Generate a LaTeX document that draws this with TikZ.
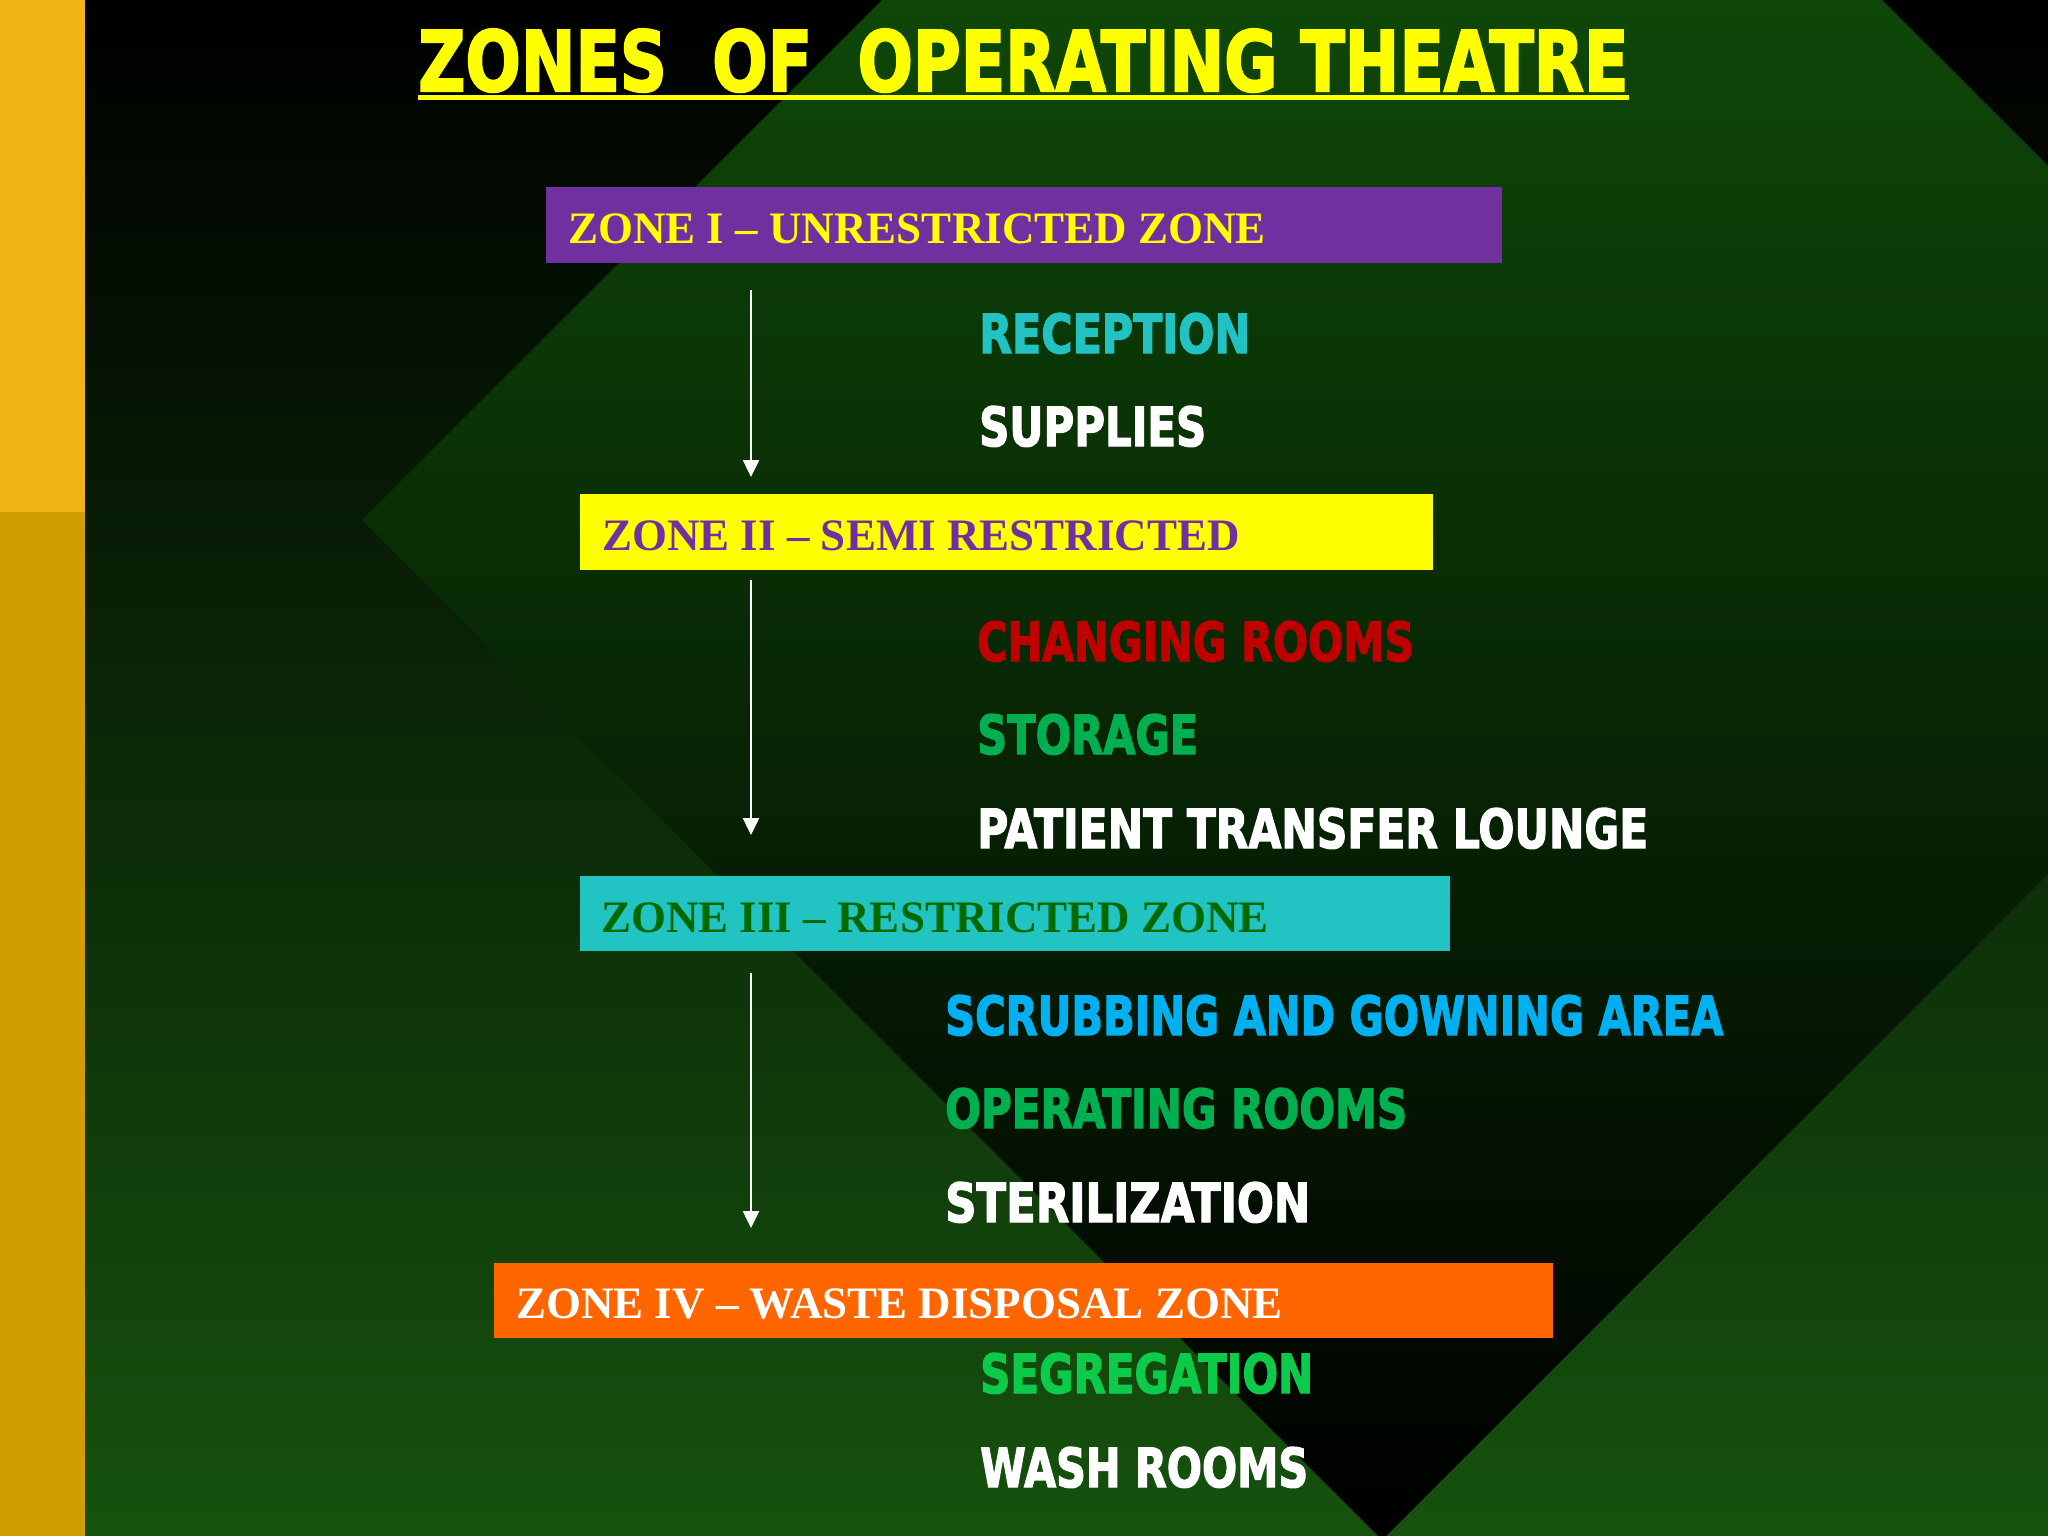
\documentclass[tikz,border=0pt]{standalone}
\usepackage{fontspec}
\usetikzlibrary{arrows.meta}
\newfontfamily\serifb{Liberation Serif}
\newfontfamily\disp{DejaVu Sans}[FakeBold=2.6]
\definecolor{zpurple}{HTML}{7030A0}
\definecolor{zyellow}{HTML}{FFFF00}
\definecolor{zteal}{HTML}{21C4C2}
\definecolor{zdkgreen}{HTML}{006A00}
\definecolor{zorange}{HTML}{FF6600}
\definecolor{cteal}{HTML}{22C2C2}
\definecolor{cred}{HTML}{C00000}
\definecolor{cgreen}{HTML}{00B050}
\definecolor{cblue}{HTML}{00B0F0}
\definecolor{cseg}{HTML}{0CCB4A}
\definecolor{bgbot}{RGB}{22,82,14}
\definecolor{dmtop}{RGB}{19,94,11}
\definecolor{bartop}{RGB}{240,181,18}
\definecolor{barbot}{RGB}{209,158,0}
\newcommand\fitd[3]{\resizebox{#1pt}{#2pt}{\disp\bfseries #3}}
\begin{document}
\begin{tikzpicture}[x=1pt,y=-1pt,
  zbox/.style={draw=none, anchor=north west, inner sep=0pt, outer sep=0pt},
  ztext/.style={font=\serifb\bfseries\fontsize{45}{54}\selectfont, inner sep=0pt, anchor=base west},
  item/.style={inner sep=0pt, anchor=base west},
  arr/.style={draw=white, line width=2.5pt, -{Triangle[width=16pt,length=17pt]}}]
\useasboundingbox (0,0) rectangle (2048,1536);
\clip (0,0) rectangle (2048,1536);
% background
\shade[top color=black, bottom color=bgbot] (0,0) rectangle (2048,1536);
\shade[top color=dmtop, bottom color=black] (1382,-500) -- (2402,520) -- (1382,1540) -- (362,520) -- cycle;
\fill[bartop] (0,0) rectangle (85,512);
\fill[barbot] (0,512) rectangle (85,1536);
% title
\node[item, text=zyellow] (title) at (418,91) {\fitd{1210}{62}{ZONES\ \ OF\ \ OPERATING THEATRE}};
\draw[zyellow, line width=4.5pt] ([yshift=-5pt]title.south west) -- ([yshift=-5pt]title.south east);
% zone boxes
\node[zbox, fill=zpurple, minimum width=956pt, minimum height=76pt] (z1) at (546,187) {};
\node[zbox, fill=zyellow, minimum width=853pt, minimum height=76pt] (z2) at (580,494) {};
\node[zbox, fill=zteal, minimum width=870pt, minimum height=75pt] (z3) at (580,876) {};
\node[zbox, fill=zorange, minimum width=1059pt, minimum height=75pt] (z4) at (494,1263) {};
\node[ztext, text=zyellow] (z1t) at (568,243) {ZONE I – UNRESTRICTED ZONE};
\node[ztext, text=zpurple] (z2t) at (602,550) {ZONE II – SEMI RESTRICTED};
\node[ztext, text=zdkgreen] (z3t) at (601,932) {ZONE III – RESTRICTED ZONE};
\node[ztext, text=white] (z4t) at (516,1318) {ZONE IV – WASTE DISPOSAL ZONE};
% arrows
\coordinate (a1s) at (751,290);
\coordinate (a1e) at (751,477);
\coordinate (a2s) at (751,580);
\coordinate (a2e) at (751,835);
\coordinate (a3s) at (751,973);
\coordinate (a3e) at (751,1228);
\draw[arr] (a1s) -- (a1e);
\draw[arr] (a2s) -- (a2e);
\draw[arr] (a3s) -- (a3e);
% items
\node[item, text=cteal] (i1) at (979,353) {\fitd{271}{40}{RECEPTION}};
\node[item, text=white] (i2) at (979,446) {\fitd{227}{40}{SUPPLIES}};
\node[item, text=cred] (i3) at (977,661) {\fitd{437}{40}{CHANGING ROOMS}};
\node[item, text=cgreen] (i4) at (977,754) {\fitd{221}{40}{STORAGE}};
\node[item, text=white] (i5) at (977,848) {\fitd{671}{40}{PATIENT TRANSFER LOUNGE}};
\node[item, text=cblue] (i6) at (945,1035) {\fitd{778}{40}{SCRUBBING AND GOWNING AREA}};
\node[item, text=cgreen] (i7) at (945,1128) {\fitd{462}{40}{OPERATING ROOMS}};
\node[item, text=white] (i8) at (945,1222) {\fitd{365}{40}{STERILIZATION}};
\node[item, text=cseg] (i9) at (980,1393) {\fitd{333}{40}{SEGREGATION}};
\node[item, text=white] (i10) at (980,1487) {\fitd{328}{40}{WASH ROOMS}};
\end{tikzpicture}
\end{document}
